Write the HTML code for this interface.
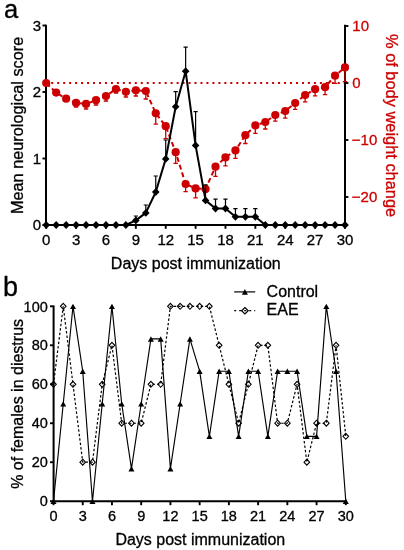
<!DOCTYPE html>
<html><head><meta charset="utf-8"><style>
html,body{margin:0;padding:0;background:#fff;}
body{width:404px;height:550px;overflow:hidden;}
svg{display:block;}
text{stroke:#000;stroke-width:0.3px;}
.r text,text.r{stroke:#cc0000;}
</style></head><body>
<svg width="404" height="550" viewBox="0 0 404 550" font-family="'Liberation Sans', Arial, sans-serif">
<rect width="404" height="550" fill="#fff"/>
<text x="3.9" y="18.4" font-size="25.5">a</text>
<text x="3" y="295.8" font-size="27">b</text>
<line x1="46.0" y1="83" x2="345.0" y2="83" stroke="#cc0000" stroke-width="2" stroke-dasharray="2 3.97" stroke-dashoffset="0.75"/>
<polyline points="46.0,24.8 46.0,225.0 345.0,225.0 345.0,24.8" fill="none" stroke="#000" stroke-width="2"/>
<g stroke="#000" stroke-width="1.9">
<line x1="42.5" y1="225.00" x2="46.0" y2="225.00"/>
<line x1="42.5" y1="158.50" x2="46.0" y2="158.50"/>
<line x1="42.5" y1="92.00" x2="46.0" y2="92.00"/>
<line x1="42.5" y1="25.50" x2="46.0" y2="25.50"/>
<line x1="345.0" y1="26.00" x2="348.4" y2="26.00"/>
<line x1="345.0" y1="83.00" x2="348.4" y2="83.00"/>
<line x1="345.0" y1="140.00" x2="348.4" y2="140.00"/>
<line x1="345.0" y1="197.00" x2="348.4" y2="197.00"/>
<line x1="46.20" y1="225.0" x2="46.20" y2="228.8"/>
<line x1="76.08" y1="225.0" x2="76.08" y2="228.8"/>
<line x1="105.96" y1="225.0" x2="105.96" y2="228.8"/>
<line x1="135.84" y1="225.0" x2="135.84" y2="228.8"/>
<line x1="165.72" y1="225.0" x2="165.72" y2="228.8"/>
<line x1="195.60" y1="225.0" x2="195.60" y2="228.8"/>
<line x1="225.48" y1="225.0" x2="225.48" y2="228.8"/>
<line x1="255.36" y1="225.0" x2="255.36" y2="228.8"/>
<line x1="285.24" y1="225.0" x2="285.24" y2="228.8"/>
<line x1="315.12" y1="225.0" x2="315.12" y2="228.8"/>
<line x1="345.00" y1="225.0" x2="345.00" y2="228.8"/>
</g>
<path d="M76.08,102.9 V107 M73.88,107 H78.28" stroke="#cc0000" stroke-width="1.3" fill="none"/>
<path d="M86.04,103.9 V109 M83.84,109 H88.24" stroke="#cc0000" stroke-width="1.3" fill="none"/>
<path d="M96.00,100.2 V105 M93.80,105 H98.20" stroke="#cc0000" stroke-width="1.3" fill="none"/>
<path d="M105.96,96 V101 M103.76,101 H108.16" stroke="#cc0000" stroke-width="1.3" fill="none"/>
<path d="M115.92,89 V93 M113.72,93 H118.12" stroke="#cc0000" stroke-width="1.3" fill="none"/>
<path d="M125.88,91.8 V97 M123.68,97 H128.08" stroke="#cc0000" stroke-width="1.3" fill="none"/>
<path d="M135.84,90.3 V96 M133.64,96 H138.04" stroke="#cc0000" stroke-width="1.3" fill="none"/>
<path d="M145.80,91 V99 M143.60,99 H148.00" stroke="#cc0000" stroke-width="1.3" fill="none"/>
<path d="M155.76,113.3 V124.2 M153.56,124.2 H157.96" stroke="#cc0000" stroke-width="1.3" fill="none"/>
<path d="M165.72,126.2 V138.6 M163.52,138.6 H167.92" stroke="#cc0000" stroke-width="1.3" fill="none"/>
<path d="M175.68,152.2 V163.3 M173.48,163.3 H177.88" stroke="#cc0000" stroke-width="1.3" fill="none"/>
<path d="M185.64,184 V191.7 M183.44,191.7 H187.84" stroke="#cc0000" stroke-width="1.3" fill="none"/>
<path d="M195.60,188.4 V197.8 M193.40,197.8 H197.80" stroke="#cc0000" stroke-width="1.3" fill="none"/>
<path d="M205.56,189 V192 M203.36,192 H207.76" stroke="#cc0000" stroke-width="1.3" fill="none"/>
<path d="M215.52,166.7 V176.4 M213.32,176.4 H217.72" stroke="#cc0000" stroke-width="1.3" fill="none"/>
<path d="M225.48,157.4 V165.8 M223.28,165.8 H227.68" stroke="#cc0000" stroke-width="1.3" fill="none"/>
<path d="M235.44,150.4 V158.3 M233.24,158.3 H237.64" stroke="#cc0000" stroke-width="1.3" fill="none"/>
<path d="M245.40,135.2 V143.5 M243.20,143.5 H247.60" stroke="#cc0000" stroke-width="1.3" fill="none"/>
<path d="M255.36,125.4 V133.4 M253.16,133.4 H257.56" stroke="#cc0000" stroke-width="1.3" fill="none"/>
<path d="M265.32,122 V129 M263.12,129 H267.52" stroke="#cc0000" stroke-width="1.3" fill="none"/>
<path d="M275.28,115 V121.1 M273.08,121.1 H277.48" stroke="#cc0000" stroke-width="1.3" fill="none"/>
<path d="M285.24,111 V118.2 M283.04,118.2 H287.44" stroke="#cc0000" stroke-width="1.3" fill="none"/>
<path d="M295.20,103 V109.4 M293.00,109.4 H297.40" stroke="#cc0000" stroke-width="1.3" fill="none"/>
<path d="M305.16,95.1 V101.9 M302.96,101.9 H307.36" stroke="#cc0000" stroke-width="1.3" fill="none"/>
<path d="M315.12,89.2 V95.9 M312.92,95.9 H317.32" stroke="#cc0000" stroke-width="1.3" fill="none"/>
<path d="M325.08,87.2 V94.6 M322.88,94.6 H327.28" stroke="#cc0000" stroke-width="1.3" fill="none"/>
<path d="M335.04,75.7 V83.3 M332.84,83.3 H337.24" stroke="#cc0000" stroke-width="1.3" fill="none"/>
<path d="M345.00,67.4 V81.7 M342.80,81.7 H347.20" stroke="#cc0000" stroke-width="1.3" fill="none"/>
<polyline points="46.20,83 56.16,92.6 66.12,98.7 76.08,102.9 86.04,103.9 96.00,100.2 105.96,96 115.92,89 125.88,91.8 135.84,90.3 145.80,91 155.76,113.3 165.72,126.2 175.68,152.2 185.64,184 195.60,188.4 205.56,189 215.52,166.7 225.48,157.4 235.44,150.4 245.40,135.2 255.36,125.4 265.32,122 275.28,115 285.24,111 295.20,103 305.16,95.1 315.12,89.2 325.08,87.2 335.04,75.7 345.00,67.4" fill="none" stroke="#cc0000" stroke-width="2" stroke-dasharray="5 3"/>
<circle cx="46.20" cy="83" r="4.1" fill="#cc0000"/>
<circle cx="56.16" cy="92.6" r="4.1" fill="#cc0000"/>
<circle cx="66.12" cy="98.7" r="4.1" fill="#cc0000"/>
<circle cx="76.08" cy="102.9" r="4.1" fill="#cc0000"/>
<circle cx="86.04" cy="103.9" r="4.1" fill="#cc0000"/>
<circle cx="96.00" cy="100.2" r="4.1" fill="#cc0000"/>
<circle cx="105.96" cy="96" r="4.1" fill="#cc0000"/>
<circle cx="115.92" cy="89" r="4.1" fill="#cc0000"/>
<circle cx="125.88" cy="91.8" r="4.1" fill="#cc0000"/>
<circle cx="135.84" cy="90.3" r="4.1" fill="#cc0000"/>
<circle cx="145.80" cy="91" r="4.1" fill="#cc0000"/>
<circle cx="155.76" cy="113.3" r="4.1" fill="#cc0000"/>
<circle cx="165.72" cy="126.2" r="4.1" fill="#cc0000"/>
<circle cx="175.68" cy="152.2" r="4.1" fill="#cc0000"/>
<circle cx="185.64" cy="184" r="4.1" fill="#cc0000"/>
<circle cx="195.60" cy="188.4" r="4.1" fill="#cc0000"/>
<circle cx="205.56" cy="189" r="4.1" fill="#cc0000"/>
<circle cx="215.52" cy="166.7" r="4.1" fill="#cc0000"/>
<circle cx="225.48" cy="157.4" r="4.1" fill="#cc0000"/>
<circle cx="235.44" cy="150.4" r="4.1" fill="#cc0000"/>
<circle cx="245.40" cy="135.2" r="4.1" fill="#cc0000"/>
<circle cx="255.36" cy="125.4" r="4.1" fill="#cc0000"/>
<circle cx="265.32" cy="122" r="4.1" fill="#cc0000"/>
<circle cx="275.28" cy="115" r="4.1" fill="#cc0000"/>
<circle cx="285.24" cy="111" r="4.1" fill="#cc0000"/>
<circle cx="295.20" cy="103" r="4.1" fill="#cc0000"/>
<circle cx="305.16" cy="95.1" r="4.1" fill="#cc0000"/>
<circle cx="315.12" cy="89.2" r="4.1" fill="#cc0000"/>
<circle cx="325.08" cy="87.2" r="4.1" fill="#cc0000"/>
<circle cx="335.04" cy="75.7" r="4.1" fill="#cc0000"/>
<circle cx="345.00" cy="67.4" r="4.1" fill="#cc0000"/>
<path d="M135.84,220.4 V216 M133.74,216 H137.94" stroke="#000" stroke-width="1.2" fill="none"/>
<path d="M145.80,212.9 V205 M143.70,205 H147.90" stroke="#000" stroke-width="1.2" fill="none"/>
<path d="M155.76,192 V176 M153.66,176 H157.86" stroke="#000" stroke-width="1.2" fill="none"/>
<path d="M165.72,158.9 V140 M163.62,140 H167.82" stroke="#000" stroke-width="1.2" fill="none"/>
<path d="M175.68,106.7 V91.6 M173.58,91.6 H177.78" stroke="#000" stroke-width="1.2" fill="none"/>
<path d="M185.64,71.2 V47.1 M183.54,47.1 H187.74" stroke="#000" stroke-width="1.2" fill="none"/>
<path d="M195.60,145.4 V111.6 M193.50,111.6 H197.70" stroke="#000" stroke-width="1.2" fill="none"/>
<path d="M205.56,200.4 V184.8 M203.46,184.8 H207.66" stroke="#000" stroke-width="1.2" fill="none"/>
<path d="M215.52,208.5 V199.1 M213.42,199.1 H217.62" stroke="#000" stroke-width="1.2" fill="none"/>
<path d="M225.48,208.5 V199.1 M223.38,199.1 H227.58" stroke="#000" stroke-width="1.2" fill="none"/>
<path d="M235.44,216.8 V208.6 M233.34,208.6 H237.54" stroke="#000" stroke-width="1.2" fill="none"/>
<path d="M245.40,216.8 V208.6 M243.30,208.6 H247.50" stroke="#000" stroke-width="1.2" fill="none"/>
<path d="M255.36,216.8 V208.6 M253.26,208.6 H257.46" stroke="#000" stroke-width="1.2" fill="none"/>
<polyline points="46.20,225.0 56.16,225.0 66.12,225.0 76.08,225.0 86.04,225.0 96.00,225.0 105.96,225.0 115.92,225.0 125.88,225.0 135.84,220.4 145.80,212.9 155.76,192 165.72,158.9 175.68,106.7 185.64,71.2 195.60,145.4 205.56,200.4 215.52,208.5 225.48,208.5 235.44,216.8 245.40,216.8 255.36,216.8 265.32,225.0 275.28,225.0 285.24,225.0 295.20,225.0 305.16,225.0 315.12,225.0 325.08,225.0 335.04,225.0 345.00,225.0" fill="none" stroke="#000" stroke-width="2" stroke-linejoin="round"/>
<path d="M46.20,221.10 L50.00,225.0 L46.20,228.90 L42.40,225.0 Z" fill="#000"/>
<path d="M56.16,221.10 L59.96,225.0 L56.16,228.90 L52.36,225.0 Z" fill="#000"/>
<path d="M66.12,221.10 L69.92,225.0 L66.12,228.90 L62.32,225.0 Z" fill="#000"/>
<path d="M76.08,221.10 L79.88,225.0 L76.08,228.90 L72.28,225.0 Z" fill="#000"/>
<path d="M86.04,221.10 L89.84,225.0 L86.04,228.90 L82.24,225.0 Z" fill="#000"/>
<path d="M96.00,221.10 L99.80,225.0 L96.00,228.90 L92.20,225.0 Z" fill="#000"/>
<path d="M105.96,221.10 L109.76,225.0 L105.96,228.90 L102.16,225.0 Z" fill="#000"/>
<path d="M115.92,221.10 L119.72,225.0 L115.92,228.90 L112.12,225.0 Z" fill="#000"/>
<path d="M125.88,221.10 L129.68,225.0 L125.88,228.90 L122.08,225.0 Z" fill="#000"/>
<path d="M135.84,216.50 L139.64,220.4 L135.84,224.30 L132.04,220.4 Z" fill="#000"/>
<path d="M145.80,209.00 L149.60,212.9 L145.80,216.80 L142.00,212.9 Z" fill="#000"/>
<path d="M155.76,188.10 L159.56,192 L155.76,195.90 L151.96,192 Z" fill="#000"/>
<path d="M165.72,155.00 L169.52,158.9 L165.72,162.80 L161.92,158.9 Z" fill="#000"/>
<path d="M175.68,102.80 L179.48,106.7 L175.68,110.60 L171.88,106.7 Z" fill="#000"/>
<path d="M185.64,67.30 L189.44,71.2 L185.64,75.10 L181.84,71.2 Z" fill="#000"/>
<path d="M195.60,141.50 L199.40,145.4 L195.60,149.30 L191.80,145.4 Z" fill="#000"/>
<path d="M205.56,196.50 L209.36,200.4 L205.56,204.30 L201.76,200.4 Z" fill="#000"/>
<path d="M215.52,204.60 L219.32,208.5 L215.52,212.40 L211.72,208.5 Z" fill="#000"/>
<path d="M225.48,204.60 L229.28,208.5 L225.48,212.40 L221.68,208.5 Z" fill="#000"/>
<path d="M235.44,212.90 L239.24,216.8 L235.44,220.70 L231.64,216.8 Z" fill="#000"/>
<path d="M245.40,212.90 L249.20,216.8 L245.40,220.70 L241.60,216.8 Z" fill="#000"/>
<path d="M255.36,212.90 L259.16,216.8 L255.36,220.70 L251.56,216.8 Z" fill="#000"/>
<path d="M265.32,221.10 L269.12,225.0 L265.32,228.90 L261.52,225.0 Z" fill="#000"/>
<path d="M275.28,221.10 L279.08,225.0 L275.28,228.90 L271.48,225.0 Z" fill="#000"/>
<path d="M285.24,221.10 L289.04,225.0 L285.24,228.90 L281.44,225.0 Z" fill="#000"/>
<path d="M295.20,221.10 L299.00,225.0 L295.20,228.90 L291.40,225.0 Z" fill="#000"/>
<path d="M305.16,221.10 L308.96,225.0 L305.16,228.90 L301.36,225.0 Z" fill="#000"/>
<path d="M315.12,221.10 L318.92,225.0 L315.12,228.90 L311.32,225.0 Z" fill="#000"/>
<path d="M325.08,221.10 L328.88,225.0 L325.08,228.90 L321.28,225.0 Z" fill="#000"/>
<path d="M335.04,221.10 L338.84,225.0 L335.04,228.90 L331.24,225.0 Z" fill="#000"/>
<path d="M345.00,221.10 L348.80,225.0 L345.00,228.90 L341.20,225.0 Z" fill="#000"/>
<g font-size="15" text-anchor="end">
<text x="41" y="230.40">0</text>
<text x="41" y="163.90">1</text>
<text x="41" y="97.40">2</text>
<text x="41" y="30.90">3</text>
</g>
<g class="r" font-size="15" fill="#cc0000">
<text x="352.3" y="31.40">10</text>
<text x="352.3" y="88.40">0</text>
<text x="351.8" y="145.40">−10</text>
<text x="351.8" y="202.40">−20</text>
</g>
<g font-size="15" text-anchor="middle">
<text x="46.20" y="244.9">0</text>
<text x="76.08" y="244.9">3</text>
<text x="105.96" y="244.9">6</text>
<text x="135.84" y="244.9">9</text>
<text x="165.72" y="244.9">12</text>
<text x="195.60" y="244.9">15</text>
<text x="225.48" y="244.9">18</text>
<text x="255.36" y="244.9">21</text>
<text x="285.24" y="244.9">24</text>
<text x="315.12" y="244.9">27</text>
<text x="345.00" y="244.9">30</text>
</g>
<text x="195.75" y="269.3" font-size="16" text-anchor="middle">Days post immunization</text>
<text transform="translate(23,125.4) rotate(-90)" font-size="16.3" text-anchor="middle">Mean neurological score</text>
<text transform="translate(386,125.6) rotate(90)" class="r" font-size="16.4" text-anchor="middle" fill="#cc0000">% of body weight change</text>
<polyline points="53.6,305.5 53.6,501.2 346.0,501.2" fill="none" stroke="#000" stroke-width="2"/>
<g stroke="#000" stroke-width="1.9">
<line x1="50" y1="501.20" x2="53.6" y2="501.20"/>
<line x1="50" y1="462.22" x2="53.6" y2="462.22"/>
<line x1="50" y1="423.24" x2="53.6" y2="423.24"/>
<line x1="50" y1="384.26" x2="53.6" y2="384.26"/>
<line x1="50" y1="345.28" x2="53.6" y2="345.28"/>
<line x1="50" y1="306.30" x2="53.6" y2="306.30"/>
<line x1="53.50" y1="501.2" x2="53.50" y2="505.2"/>
<line x1="82.73" y1="501.2" x2="82.73" y2="505.2"/>
<line x1="111.96" y1="501.2" x2="111.96" y2="505.2"/>
<line x1="141.19" y1="501.2" x2="141.19" y2="505.2"/>
<line x1="170.42" y1="501.2" x2="170.42" y2="505.2"/>
<line x1="199.65" y1="501.2" x2="199.65" y2="505.2"/>
<line x1="228.88" y1="501.2" x2="228.88" y2="505.2"/>
<line x1="258.11" y1="501.2" x2="258.11" y2="505.2"/>
<line x1="287.34" y1="501.2" x2="287.34" y2="505.2"/>
<line x1="316.57" y1="501.2" x2="316.57" y2="505.2"/>
<line x1="345.80" y1="501.2" x2="345.80" y2="505.2"/>
</g>
<polyline points="53.50,384.26 63.24,306.30 72.99,384.26 82.73,462.22 92.47,462.22 102.22,384.26 111.96,345.28 121.70,423.24 131.45,423.24 141.19,423.24 150.93,384.26 160.68,384.26 170.42,306.30 180.16,306.30 189.91,306.30 199.65,306.30 209.39,306.30 219.14,345.28 228.88,384.26 238.62,423.24 248.37,384.26 258.11,345.28 267.85,345.28 277.60,423.24 287.34,423.24 297.08,384.26 306.83,462.22 316.57,423.24 326.31,423.24 336.06,345.28 345.80,436.30" fill="none" stroke="#000" stroke-width="1.2" stroke-dasharray="2.5 2"/>
<polyline points="53.50,501.20 63.24,403.75 72.99,306.30 82.73,371.20 92.47,501.20 102.22,403.75 111.96,306.30 121.70,403.75 131.45,468.65 141.19,403.75 150.93,338.85 160.68,338.85 170.42,468.65 180.16,403.75 189.91,338.85 199.65,371.20 209.39,436.30 219.14,371.20 228.88,371.20 238.62,436.30 248.37,371.20 258.11,371.20 267.85,436.30 277.60,371.20 287.34,371.20 297.08,371.20 306.83,436.30 316.57,436.30 326.31,306.30 336.06,371.20 345.80,501.20" fill="none" stroke="#000" stroke-width="1.15"/>
<path d="M53.50,381.26 L56.30,384.26 L53.50,387.26 L50.70,384.26 Z" fill="none" stroke="#000" stroke-width="1.1"/>
<path d="M63.24,303.30 L66.04,306.30 L63.24,309.30 L60.44,306.30 Z" fill="none" stroke="#000" stroke-width="1.1"/>
<path d="M72.99,381.26 L75.79,384.26 L72.99,387.26 L70.19,384.26 Z" fill="none" stroke="#000" stroke-width="1.1"/>
<path d="M82.73,459.22 L85.53,462.22 L82.73,465.22 L79.93,462.22 Z" fill="none" stroke="#000" stroke-width="1.1"/>
<path d="M92.47,459.22 L95.27,462.22 L92.47,465.22 L89.67,462.22 Z" fill="none" stroke="#000" stroke-width="1.1"/>
<path d="M102.22,381.26 L105.02,384.26 L102.22,387.26 L99.42,384.26 Z" fill="none" stroke="#000" stroke-width="1.1"/>
<path d="M111.96,342.28 L114.76,345.28 L111.96,348.28 L109.16,345.28 Z" fill="none" stroke="#000" stroke-width="1.1"/>
<path d="M121.70,420.24 L124.50,423.24 L121.70,426.24 L118.90,423.24 Z" fill="none" stroke="#000" stroke-width="1.1"/>
<path d="M131.45,420.24 L134.25,423.24 L131.45,426.24 L128.65,423.24 Z" fill="none" stroke="#000" stroke-width="1.1"/>
<path d="M141.19,420.24 L143.99,423.24 L141.19,426.24 L138.39,423.24 Z" fill="none" stroke="#000" stroke-width="1.1"/>
<path d="M150.93,381.26 L153.73,384.26 L150.93,387.26 L148.13,384.26 Z" fill="none" stroke="#000" stroke-width="1.1"/>
<path d="M160.68,381.26 L163.48,384.26 L160.68,387.26 L157.88,384.26 Z" fill="none" stroke="#000" stroke-width="1.1"/>
<path d="M170.42,303.30 L173.22,306.30 L170.42,309.30 L167.62,306.30 Z" fill="none" stroke="#000" stroke-width="1.1"/>
<path d="M180.16,303.30 L182.96,306.30 L180.16,309.30 L177.36,306.30 Z" fill="none" stroke="#000" stroke-width="1.1"/>
<path d="M189.91,303.30 L192.71,306.30 L189.91,309.30 L187.11,306.30 Z" fill="none" stroke="#000" stroke-width="1.1"/>
<path d="M199.65,303.30 L202.45,306.30 L199.65,309.30 L196.85,306.30 Z" fill="none" stroke="#000" stroke-width="1.1"/>
<path d="M209.39,303.30 L212.19,306.30 L209.39,309.30 L206.59,306.30 Z" fill="none" stroke="#000" stroke-width="1.1"/>
<path d="M219.14,342.28 L221.94,345.28 L219.14,348.28 L216.34,345.28 Z" fill="none" stroke="#000" stroke-width="1.1"/>
<path d="M228.88,381.26 L231.68,384.26 L228.88,387.26 L226.08,384.26 Z" fill="none" stroke="#000" stroke-width="1.1"/>
<path d="M238.62,420.24 L241.42,423.24 L238.62,426.24 L235.82,423.24 Z" fill="none" stroke="#000" stroke-width="1.1"/>
<path d="M248.37,381.26 L251.17,384.26 L248.37,387.26 L245.57,384.26 Z" fill="none" stroke="#000" stroke-width="1.1"/>
<path d="M258.11,342.28 L260.91,345.28 L258.11,348.28 L255.31,345.28 Z" fill="none" stroke="#000" stroke-width="1.1"/>
<path d="M267.85,342.28 L270.65,345.28 L267.85,348.28 L265.05,345.28 Z" fill="none" stroke="#000" stroke-width="1.1"/>
<path d="M277.60,420.24 L280.40,423.24 L277.60,426.24 L274.80,423.24 Z" fill="none" stroke="#000" stroke-width="1.1"/>
<path d="M287.34,420.24 L290.14,423.24 L287.34,426.24 L284.54,423.24 Z" fill="none" stroke="#000" stroke-width="1.1"/>
<path d="M297.08,381.26 L299.88,384.26 L297.08,387.26 L294.28,384.26 Z" fill="none" stroke="#000" stroke-width="1.1"/>
<path d="M306.83,459.22 L309.63,462.22 L306.83,465.22 L304.03,462.22 Z" fill="none" stroke="#000" stroke-width="1.1"/>
<path d="M316.57,420.24 L319.37,423.24 L316.57,426.24 L313.77,423.24 Z" fill="none" stroke="#000" stroke-width="1.1"/>
<path d="M326.31,420.24 L329.11,423.24 L326.31,426.24 L323.51,423.24 Z" fill="none" stroke="#000" stroke-width="1.1"/>
<path d="M336.06,342.28 L338.86,345.28 L336.06,348.28 L333.26,345.28 Z" fill="none" stroke="#000" stroke-width="1.1"/>
<path d="M345.80,433.30 L348.60,436.30 L345.80,439.30 L343.00,436.30 Z" fill="none" stroke="#000" stroke-width="1.1"/>
<path d="M53.50,498.60 L56.50,504.00 L50.50,504.00 Z" fill="#000"/>
<path d="M63.24,401.15 L66.24,406.55 L60.24,406.55 Z" fill="#000"/>
<path d="M72.99,303.70 L75.99,309.10 L69.99,309.10 Z" fill="#000"/>
<path d="M82.73,368.60 L85.73,374.00 L79.73,374.00 Z" fill="#000"/>
<path d="M92.47,498.60 L95.47,504.00 L89.47,504.00 Z" fill="#000"/>
<path d="M102.22,401.15 L105.22,406.55 L99.22,406.55 Z" fill="#000"/>
<path d="M111.96,303.70 L114.96,309.10 L108.96,309.10 Z" fill="#000"/>
<path d="M121.70,401.15 L124.70,406.55 L118.70,406.55 Z" fill="#000"/>
<path d="M131.45,466.05 L134.45,471.45 L128.45,471.45 Z" fill="#000"/>
<path d="M141.19,401.15 L144.19,406.55 L138.19,406.55 Z" fill="#000"/>
<path d="M150.93,336.25 L153.93,341.65 L147.93,341.65 Z" fill="#000"/>
<path d="M160.68,336.25 L163.68,341.65 L157.68,341.65 Z" fill="#000"/>
<path d="M170.42,466.05 L173.42,471.45 L167.42,471.45 Z" fill="#000"/>
<path d="M180.16,401.15 L183.16,406.55 L177.16,406.55 Z" fill="#000"/>
<path d="M189.91,336.25 L192.91,341.65 L186.91,341.65 Z" fill="#000"/>
<path d="M199.65,368.60 L202.65,374.00 L196.65,374.00 Z" fill="#000"/>
<path d="M209.39,433.70 L212.39,439.10 L206.39,439.10 Z" fill="#000"/>
<path d="M219.14,368.60 L222.14,374.00 L216.14,374.00 Z" fill="#000"/>
<path d="M228.88,368.60 L231.88,374.00 L225.88,374.00 Z" fill="#000"/>
<path d="M238.62,433.70 L241.62,439.10 L235.62,439.10 Z" fill="#000"/>
<path d="M248.37,368.60 L251.37,374.00 L245.37,374.00 Z" fill="#000"/>
<path d="M258.11,368.60 L261.11,374.00 L255.11,374.00 Z" fill="#000"/>
<path d="M267.85,433.70 L270.85,439.10 L264.85,439.10 Z" fill="#000"/>
<path d="M277.60,368.60 L280.60,374.00 L274.60,374.00 Z" fill="#000"/>
<path d="M287.34,368.60 L290.34,374.00 L284.34,374.00 Z" fill="#000"/>
<path d="M297.08,368.60 L300.08,374.00 L294.08,374.00 Z" fill="#000"/>
<path d="M306.83,433.70 L309.83,439.10 L303.83,439.10 Z" fill="#000"/>
<path d="M316.57,433.70 L319.57,439.10 L313.57,439.10 Z" fill="#000"/>
<path d="M326.31,303.70 L329.31,309.10 L323.31,309.10 Z" fill="#000"/>
<path d="M336.06,368.60 L339.06,374.00 L333.06,374.00 Z" fill="#000"/>
<path d="M345.80,498.60 L348.80,504.00 L342.80,504.00 Z" fill="#000"/>
<g font-size="14.5" text-anchor="end">
<text x="47.8" y="506.40">0</text>
<text x="47.8" y="467.42">20</text>
<text x="47.8" y="428.44">40</text>
<text x="47.8" y="389.46">60</text>
<text x="47.8" y="350.48">80</text>
<text x="47.8" y="311.50">100</text>
</g>
<g font-size="14.5" text-anchor="middle">
<text x="53.50" y="520.8">0</text>
<text x="82.73" y="520.8">3</text>
<text x="111.96" y="520.8">6</text>
<text x="141.19" y="520.8">9</text>
<text x="170.42" y="520.8">12</text>
<text x="199.65" y="520.8">15</text>
<text x="228.88" y="520.8">18</text>
<text x="258.11" y="520.8">21</text>
<text x="287.34" y="520.8">24</text>
<text x="316.57" y="520.8">27</text>
<text x="345.80" y="520.8">30</text>
</g>
<text x="200.3" y="544.5" font-size="16" text-anchor="middle">Days post immunization</text>
<text transform="translate(23,403.9) rotate(-90)" font-size="16" text-anchor="middle">% of females in diestrus</text>
<line x1="234.2" y1="291.9" x2="255.2" y2="291.9" stroke="#000" stroke-width="1.2"/>
<path d="M244.9,289 L247.9,294.8 L241.9,294.8 Z" fill="#000"/>
<line x1="234.2" y1="310.7" x2="255.2" y2="310.7" stroke="#000" stroke-width="1.2" stroke-dasharray="2 3"/>
<path d="M244.9,307.5 L248.2,310.7 L244.9,313.9 L241.6,310.7 Z" fill="none" stroke="#000" stroke-width="1.2"/>
<text x="266.6" y="297.4" font-size="16">Control</text>
<text x="266.6" y="315.4" font-size="16">EAE</text>
</svg>
</body></html>
